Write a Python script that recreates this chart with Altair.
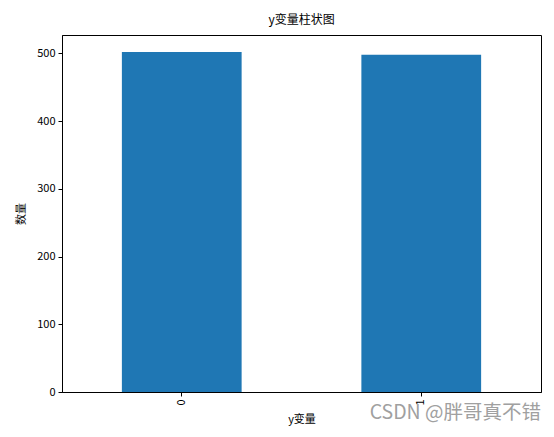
import altair as alt
import pandas as pd

categories = ["0", "1"]
counts = [502, 498]

df = pd.DataFrame({"y": categories, "count": counts})

FONT = "Noto Sans CJK SC"

bars = alt.Chart(df).mark_bar(color="#1f77b4").encode(
    x=alt.X("y:N", sort=categories,
            scale=alt.Scale(paddingInner=0.5, paddingOuter=0.25),
            axis=alt.Axis(title="y变量", labelAngle=-90, labelFontSize=11,
                          titleFontSize=11, titleFontWeight="normal",
                          titlePadding=8, tickSize=4, labelPadding=3,
                          domainColor="black", tickColor="black",
                          labelColor="black", titleColor="black",
                          labelFont=FONT, titleFont=FONT)),
    y=alt.Y("count:Q", scale=alt.Scale(domain=[0, 527.1], nice=False),
            axis=alt.Axis(title="数量", values=[0, 100, 200, 300, 400, 500],
                          grid=False, labelFontSize=11, titleFontSize=11,
                          titleFontWeight="normal", tickSize=4, labelPadding=3,
                          titlePadding=10,
                          domainColor="black", tickColor="black",
                          labelColor="black", titleColor="black",
                          labelFont=FONT, titleFont=FONT)),
)

watermark = alt.Chart(pd.DataFrame({"t": ["CSDN @胖哥真不错"]})).mark_text(
    font=FONT, fontSize=19.5, color="#a0a0a0", align="right", baseline="middle"
).encode(
    text="t:N",
    x=alt.value(479),
    y=alt.value(378),
)

chart = alt.layer(bars, watermark).properties(
    width=479,
    height=357,
    background="white",
    title=alt.TitleParams("y变量柱状图", font=FONT, fontSize=12,
                          fontWeight="normal", color="black", offset=8),
    autosize=alt.AutoSizeParams(type="none"),
    padding={"left": 54, "top": 27, "right": 5, "bottom": 37},
).configure_view(stroke="black", strokeWidth=1)

chart.save("out.html", embed_options={"renderer": "svg", "actions": False})
